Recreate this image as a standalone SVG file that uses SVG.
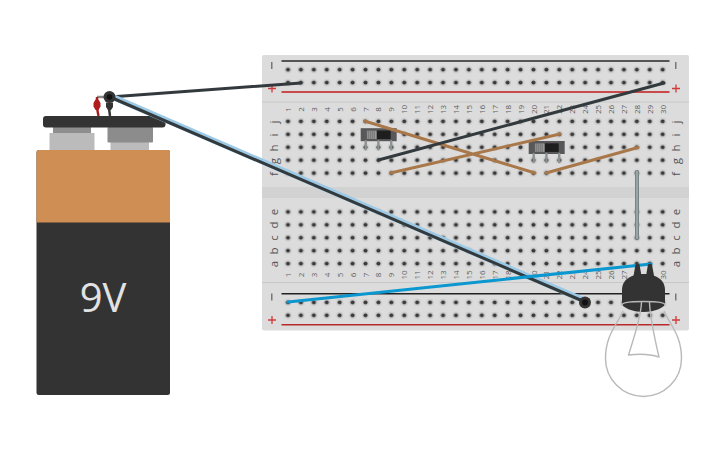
<svg xmlns="http://www.w3.org/2000/svg" width="725" height="453" viewBox="0 0 725 453">
<style>
text{font-family:"Open Sans","DejaVu Sans",sans-serif}
.n{font-size:8px;fill:#5c5c5c;text-anchor:middle}
.l{font-size:11.500px;fill:#555;text-anchor:middle}
.w{fill:none;stroke-linecap:round}
.dk{stroke:#333a3d;stroke-width:3}
.br{stroke:#a9784a;stroke-width:3}
.bl{stroke:#0b97cf;stroke-width:3.2}
.gl{fill:none;stroke:#b9b9b9;stroke-width:1.4;stroke-linejoin:round}
</style>
<defs>
<pattern id="holes" patternUnits="userSpaceOnUse" x="281.54" width="12.92" height="12.93" y="63.2">
<circle cx="6.46" cy="6.46" r="3.8" fill="#cecece"/><circle cx="6.46" cy="6.46" r="2.1" fill="#3a3a3a"/>
</pattern>
<g id="sw">
<rect width="36" height="13" fill="#58585a"/>
<rect x="6" y="2.300" width="24" height="8.600" fill="#1e1e1e"/>
<rect x="6" y="2.300" width="10" height="8.600" fill="#9a9a9a"/>
<path d="M7.500 2.300v8.600M9.500 2.300v8.600M11.500 2.300v8.600M13.500 2.300v8.600" stroke="#666" stroke-width=".8"/>
<path d="M5 13v8M17.700 13v8M30.500 13v8" stroke="#8d9392" stroke-width="2.400" stroke-linecap="round"/>
</g>
</defs>

<g id="breadboard">
<rect x="262" y="55" width="427" height="275.500" rx="2" fill="#dcdcdc"/>
<path d="M262 102H689M262 282.500H689" stroke="#c8c8c8" stroke-width="1"/>
<rect x="262" y="187" width="427" height="11" fill="#d2d2d2"/>
<rect x="281.500" y="60" width="388" height="2" fill="#555"/>
<rect x="281.500" y="91" width="388" height="2" fill="#c94a4a"/>
<rect x="281.500" y="293" width="388" height="1.500" fill="#222"/>
<rect x="281.500" y="324" width="388" height="1.500" fill="#b82a2a"/>
<rect x="281.540" y="63.200" width="387.600" height="25.900" fill="url(#holes)"/>
<rect x="281.540" y="114.900" width="387.600" height="64.600" fill="url(#holes)"/>
<rect x="281.540" y="205.500" width="387.600" height="64.600" fill="url(#holes)"/>
<rect x="281.540" y="296" width="387.600" height="25.900" fill="url(#holes)"/>
<g fill="#777">
<rect x="271" y="62" width="1.500" height="7"/><rect x="675" y="62" width="1.500" height="7"/>
<rect x="271" y="293.500" width="1.500" height="7"/><rect x="675" y="293.500" width="1.500" height="7"/>
</g>
<path d="M268 88.500h8M272 84.500v8M672 88.500h8M676 84.500v8M268 320h8M272 316v8M672 320h8M676 316v8" stroke="#cf3a3a" stroke-width="1.300"/>
<g class="labels">
<text class="l" transform="translate(278,122) rotate(-90)">j</text>
<text class="l" transform="translate(278,135) rotate(-90)">i</text>
<text class="l" transform="translate(278,148) rotate(-90)">h</text>
<text class="l" transform="translate(278,161) rotate(-90)">g</text>
<text class="l" transform="translate(278,174) rotate(-90)">f</text>
<text class="l" transform="translate(278,212) rotate(-90)">e</text>
<text class="l" transform="translate(278,225) rotate(-90)">d</text>
<text class="l" transform="translate(278,238) rotate(-90)">c</text>
<text class="l" transform="translate(278,251) rotate(-90)">b</text>
<text class="l" transform="translate(278,264) rotate(-90)">a</text>
<text class="l" transform="translate(680,122) rotate(-90)">j</text>
<text class="l" transform="translate(680,135) rotate(-90)">i</text>
<text class="l" transform="translate(680,148) rotate(-90)">h</text>
<text class="l" transform="translate(680,161) rotate(-90)">g</text>
<text class="l" transform="translate(680,174) rotate(-90)">f</text>
<text class="l" transform="translate(680,212) rotate(-90)">e</text>
<text class="l" transform="translate(680,225) rotate(-90)">d</text>
<text class="l" transform="translate(680,238) rotate(-90)">c</text>
<text class="l" transform="translate(680,251) rotate(-90)">b</text>
<text class="l" transform="translate(680,264) rotate(-90)">a</text>
</g>
<g class="cols">
<text class="n" transform="translate(291,109.500) rotate(-90)">1</text><text class="n" transform="translate(303.900,109.500) rotate(-90)">2</text><text class="n" transform="translate(316.800,109.500) rotate(-90)">3</text><text class="n" transform="translate(329.800,109.500) rotate(-90)">4</text><text class="n" transform="translate(342.700,109.500) rotate(-90)">5</text><text class="n" transform="translate(355.600,109.500) rotate(-90)">6</text><text class="n" transform="translate(368.500,109.500) rotate(-90)">7</text><text class="n" transform="translate(381.400,109.500) rotate(-90)">8</text><text class="n" transform="translate(394.400,109.500) rotate(-90)">9</text><text class="n" transform="translate(407.300,109.500) rotate(-90)">10</text><text class="n" transform="translate(420.200,109.500) rotate(-90)">11</text><text class="n" transform="translate(433.100,109.500) rotate(-90)">12</text><text class="n" transform="translate(446,109.500) rotate(-90)">13</text><text class="n" transform="translate(459,109.500) rotate(-90)">14</text><text class="n" transform="translate(471.900,109.500) rotate(-90)">15</text><text class="n" transform="translate(484.800,109.500) rotate(-90)">16</text><text class="n" transform="translate(497.700,109.500) rotate(-90)">17</text><text class="n" transform="translate(510.600,109.500) rotate(-90)">18</text><text class="n" transform="translate(523.600,109.500) rotate(-90)">19</text><text class="n" transform="translate(536.500,109.500) rotate(-90)">20</text><text class="n" transform="translate(549.400,109.500) rotate(-90)">21</text><text class="n" transform="translate(562.300,109.500) rotate(-90)">22</text><text class="n" transform="translate(575.200,109.500) rotate(-90)">23</text><text class="n" transform="translate(588.200,109.500) rotate(-90)">24</text><text class="n" transform="translate(601.100,109.500) rotate(-90)">25</text><text class="n" transform="translate(614,109.500) rotate(-90)">26</text><text class="n" transform="translate(626.900,109.500) rotate(-90)">27</text><text class="n" transform="translate(639.800,109.500) rotate(-90)">28</text><text class="n" transform="translate(652.800,109.500) rotate(-90)">29</text><text class="n" transform="translate(665.700,109.500) rotate(-90)">30</text>
<text class="n" transform="translate(291,275) rotate(-90)">1</text><text class="n" transform="translate(303.900,275) rotate(-90)">2</text><text class="n" transform="translate(316.800,275) rotate(-90)">3</text><text class="n" transform="translate(329.800,275) rotate(-90)">4</text><text class="n" transform="translate(342.700,275) rotate(-90)">5</text><text class="n" transform="translate(355.600,275) rotate(-90)">6</text><text class="n" transform="translate(368.500,275) rotate(-90)">7</text><text class="n" transform="translate(381.400,275) rotate(-90)">8</text><text class="n" transform="translate(394.400,275) rotate(-90)">9</text><text class="n" transform="translate(407.300,275) rotate(-90)">10</text><text class="n" transform="translate(420.200,275) rotate(-90)">11</text><text class="n" transform="translate(433.100,275) rotate(-90)">12</text><text class="n" transform="translate(446,275) rotate(-90)">13</text><text class="n" transform="translate(459,275) rotate(-90)">14</text><text class="n" transform="translate(471.900,275) rotate(-90)">15</text><text class="n" transform="translate(484.800,275) rotate(-90)">16</text><text class="n" transform="translate(497.700,275) rotate(-90)">17</text><text class="n" transform="translate(510.600,275) rotate(-90)">18</text><text class="n" transform="translate(523.600,275) rotate(-90)">19</text><text class="n" transform="translate(536.500,275) rotate(-90)">20</text><text class="n" transform="translate(549.400,275) rotate(-90)">21</text><text class="n" transform="translate(562.300,275) rotate(-90)">22</text><text class="n" transform="translate(575.200,275) rotate(-90)">23</text><text class="n" transform="translate(588.200,275) rotate(-90)">24</text><text class="n" transform="translate(601.100,275) rotate(-90)">25</text><text class="n" transform="translate(614,275) rotate(-90)">26</text><text class="n" transform="translate(626.900,275) rotate(-90)">27</text><text class="n" transform="translate(639.800,275) rotate(-90)">28</text><text class="n" transform="translate(652.800,275) rotate(-90)">29</text><text class="n" transform="translate(665.700,275) rotate(-90)">30</text>
</g>
</g>

<g id="switch1"><use href="#sw" x="360.700" y="128.200"/></g>
<g id="switch2"><use href="#sw" x="528.700" y="141"/></g>

<g id="battery">
<rect x="36.500" y="150" width="133.500" height="245" rx="2.500" fill="#333"/>
<path d="M36.500 222.500V152.500a2.500 2.500 0 0 1 2.500-2.500H167.500a2.500 2.500 0 0 1 2.500 2.500V222.500Z" fill="#cf8e54"/>
<rect x="49.500" y="133" width="45" height="17" fill="#bbb"/>
<rect x="53" y="127" width="38" height="6" fill="#8e8e8e"/>
<rect x="110.500" y="142" width="38.500" height="8" fill="#bbb"/>
<rect x="107.500" y="127" width="45.500" height="15.500" rx="1" fill="#8c8c8c"/>
<rect x="43" y="116" width="122.500" height="11.500" rx="3" fill="#333"/>
<text x="103" y="311.500" font-size="40" fill="#e2e2e2" text-anchor="middle">9V</text>
</g>

<g id="connectors">
<path class="w br" d="M364.500 121L535 173M390.500 173L560 134M546 173L638 147.500"/>
<path class="w dk" d="M378.500 160L664 83"/>
<path class="w dk" d="M110 97L301 83"/>
<path class="w" d="M110.500 96L585.500 301" stroke="#9cc9e6" stroke-width="5.800"/>
<path class="w dk" d="M110 97L585 302"/>
<path class="w bl" d="M288 302L651 264"/>
<path class="w" d="M637 172V238" stroke="#6b7676" stroke-width="4"/>
<path class="w" d="M637 172V238" stroke="#98a5a5" stroke-width="2.600"/>
</g>

<g id="battery-clips">
<path d="M97 97H110" stroke="#888" stroke-width="2.500"/>
<path d="M97 97V102M97 108L98.500 116" stroke="#a81c1c" stroke-width="2.400" fill="none"/>
<path d="M93.500 103L95.500 99.500H98.500L100.500 103V106.500L98.500 110H95.500L93.500 106.500Z" fill="#b01c1c"/>
<path d="M109 108L110 116" stroke="#333" stroke-width="2.400" fill="none"/>
<path d="M106 102.500H113V107L111 110H108L106 107Z" fill="#333"/>
<circle cx="109.500" cy="97" r="6" fill="#333"/>
<circle cx="109.500" cy="97" r="2.800" fill="#111"/>
</g>
<g id="wire-end"><circle cx="585" cy="302.500" r="6" fill="#333"/><circle cx="585" cy="302.500" r="3" fill="#111"/></g>

<g id="bulb">
<path d="M633.500 276L635.500 264.500Q637.500 263 639.500 264.500L641.500 276ZM646 276L648 264.500Q650 263 652 264.500L654 276Z" fill="#333"/>
<path d="M622 304V290C622 279 632 274 643.500 274S665 279 665 290V304C665 307 655 312 643.500 312S622 307 622 304Z" fill="#333"/>
<path class="gl" d="M622.500 306C620 303 627 301.500 643.500 301.500S667 303 664.500 306"/>
<path class="gl" d="M623 311C617 325 605.500 335 605.500 358.500A38 38 0 0 0 681.500 358.500C681.500 335 670 325 664 311"/>
<path class="gl" d="M641.500 302C641 318 633 340 628.500 355C640 353.500 650 354 659 357C655 340 650 318 649.500 302"/>
</g>
</svg>
